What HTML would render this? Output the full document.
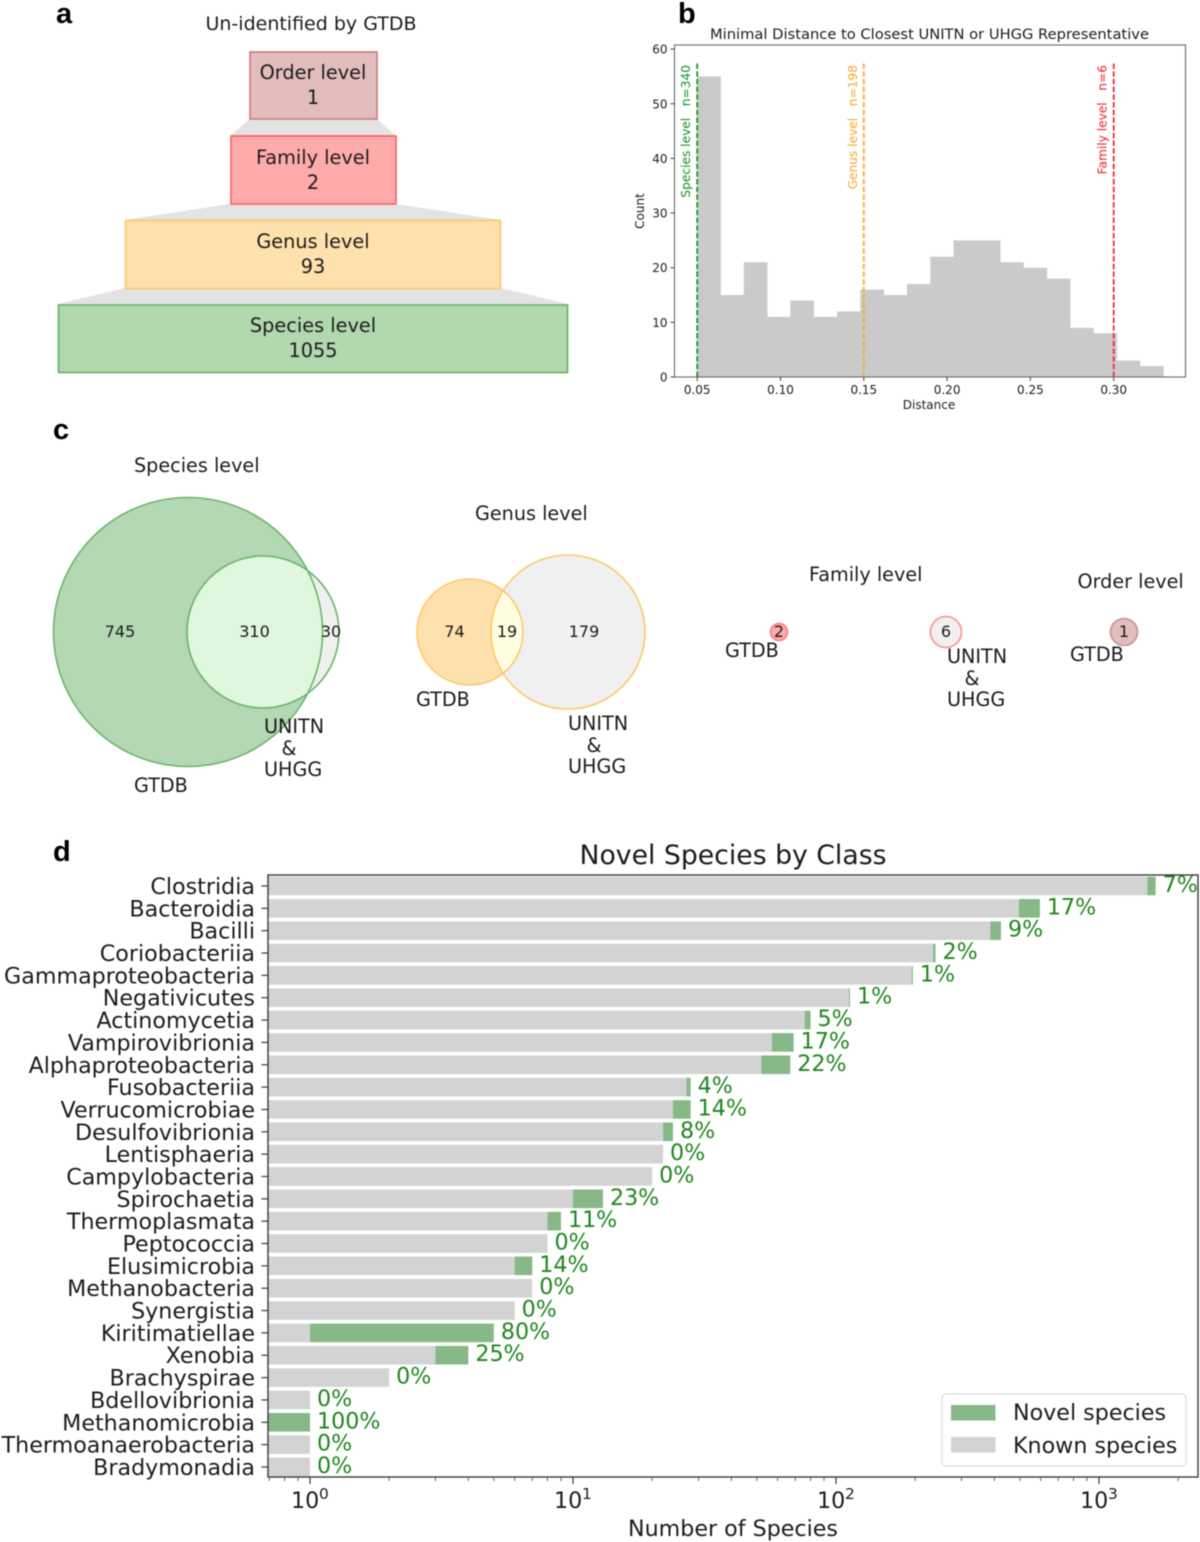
<!DOCTYPE html>
<html lang="en">
<head>
<meta charset="utf-8">
<title>Novel species figure</title>
<style>
html,body{margin:0;padding:0;background:#fff;}
svg{display:block;filter:blur(0.4px);}
text{font-family:"DejaVu Sans","Liberation Sans",sans-serif;fill:#1c1c1c;}
.letter{font-family:"Liberation Sans",sans-serif;font-weight:bold;font-size:29px;fill:#000;}
.a-t{font-size:19.3px;text-anchor:middle;}
.c-t{font-size:19.2px;}
.c-v{font-size:16px;text-anchor:middle;}
</style>
</head>
<body>
<svg id="figure" xmlns="http://www.w3.org/2000/svg" width="1200" height="1542" viewBox="0 0 1200 1542">
<defs>
<clipPath id="clip-gtdb-species"><circle cx="188" cy="632" r="134.5"/></clipPath>
<clipPath id="clip-gtdb-genus"><circle cx="470" cy="632" r="53"/></clipPath>
<clipPath id="clip-axes-d"><rect x="268" y="875" width="930" height="602"/></clipPath>
</defs>
<rect width="1200" height="1542" fill="#fff"/>

<!-- Panel a -->
<g id="panel-a">
<text class="letter" x="56" y="23">a</text>
<text x="311" y="30" font-size="19" text-anchor="middle">Un-identified by GTDB</text>
<polygon points="249.5,119 377,119 396,136 230,136" fill="#e3e3e3"/>
<polygon points="230,204 396,204 501,220 125,220" fill="#e3e3e3"/>
<polygon points="125,288 501,288 568,304 58,304" fill="#e3e3e3"/>
<rect x="250" y="52" width="127" height="67" fill="#e3bcbc" stroke="#c97c7c" stroke-width="1.6"/>
<rect x="231" y="136" width="165" height="68" fill="#ffabab" stroke="#ff5f5f" stroke-width="1.6"/>
<rect x="125.5" y="220.5" width="375" height="68" fill="#ffe1ad" stroke="#ffc76a" stroke-width="1.6"/>
<rect x="58.5" y="305" width="509" height="67.5" fill="#b1d8af" stroke="#66b066" stroke-width="1.6"/>
<text class="a-t" x="313" y="79">Order level</text>
<text class="a-t" x="313" y="104">1</text>
<text class="a-t" x="313" y="164">Family level</text>
<text class="a-t" x="313" y="189">2</text>
<text class="a-t" x="313" y="248">Genus level</text>
<text class="a-t" x="313" y="273">93</text>
<text class="a-t" x="313" y="332">Species level</text>
<text class="a-t" x="313" y="357">1055</text>
</g>

<!-- Panel b -->
<g id="panel-b">
<text class="letter" x="678" y="23">b</text>
<text x="929.5" y="39" font-size="14" text-anchor="middle" textLength="439" lengthAdjust="spacingAndGlyphs">Minimal Distance to Closest UNITN or UHGG Representative</text>
<g id="hist-bars"></g>
<g id="hist-lines"></g>
<rect x="674.5" y="45" width="511" height="332" fill="none" stroke="#6a6a6a" stroke-width="1.1"/>
<g id="hist-axes"></g>
<text x="929" y="409" font-size="12" text-anchor="middle">Distance</text>
<text transform="translate(644,211) rotate(-90)" font-size="12" text-anchor="middle">Count</text>
</g>

<!-- Panel c -->
<g id="panel-c">
<text class="letter" x="53" y="439">c</text>
<text class="c-t" x="134" y="472">Species level</text>
<circle cx="263" cy="632" r="76" fill="#f0f0f0"/>
<circle cx="188" cy="632" r="134.5" fill="#b3d8b3"/>
<circle cx="263" cy="632" r="76" fill="#dff7dc" clip-path="url(#clip-gtdb-species)"/>
<circle cx="188" cy="632" r="134.5" fill="none" stroke="#6ab56a" stroke-width="1.6"/>
<circle cx="263" cy="632" r="76" fill="none" stroke="#6ab56a" stroke-width="1.6"/>
<text class="c-v" x="120" y="637">745</text>
<text class="c-v" x="254.500" y="637">310</text>
<text class="c-v" x="331" y="637">30</text>
<text class="c-t" x="134" y="792">GTDB</text>
<text class="c-t" x="264" y="733">UNITN</text>
<text class="c-t" x="289" y="755" text-anchor="middle">&amp;</text>
<text class="c-t" x="264" y="776">UHGG</text>

<text class="c-t" x="475" y="520">Genus level</text>
<circle cx="568" cy="632" r="77" fill="#f0f0f0"/>
<circle cx="470" cy="632" r="53" fill="#ffe1ad"/>
<circle cx="568" cy="632" r="77" fill="#fffde0" clip-path="url(#clip-gtdb-genus)"/>
<circle cx="470" cy="632" r="53" fill="none" stroke="#ffc76a" stroke-width="1.6"/>
<circle cx="568" cy="632" r="77" fill="none" stroke="#ffc76a" stroke-width="1.6"/>
<text class="c-v" x="454.500" y="637">74</text>
<text class="c-v" x="507" y="637">19</text>
<text class="c-v" x="584" y="637">179</text>
<text class="c-t" x="416" y="706">GTDB</text>
<text class="c-t" x="568" y="730">UNITN</text>
<text class="c-t" x="594" y="752" text-anchor="middle">&amp;</text>
<text class="c-t" x="568" y="773">UHGG</text>

<text class="c-t" x="809" y="581">Family level</text>
<circle cx="779" cy="632" r="8.5" fill="#ffabab" stroke="#ff7a7a" stroke-width="1.6"/>
<text class="c-v" x="779" y="637" font-size="15">2</text>
<text class="c-t" x="725" y="657">GTDB</text>
<circle cx="946" cy="632" r="15.500" fill="#f0f0f0" stroke="#ff8e8e" stroke-width="1.6"/>
<text class="c-v" x="946" y="637">6</text>
<text class="c-t" x="947" y="663">UNITN</text>
<text class="c-t" x="972" y="685" text-anchor="middle">&amp;</text>
<text class="c-t" x="947" y="706">UHGG</text>

<text class="c-t" x="1077.500" y="588">Order level</text>
<circle cx="1124" cy="632" r="13.500" fill="#e3bcbc" stroke="#cf8f8f" stroke-width="1.6"/>
<text class="c-v" x="1124" y="637">1</text>
<text class="c-t" x="1070" y="661">GTDB</text>
</g>

<!-- Panel d -->
<g id="panel-d">
<text class="letter" x="53" y="861">d</text>
<text x="733" y="864" font-size="26.7" text-anchor="middle">Novel Species by Class</text>
<g id="class-bars" clip-path="url(#clip-axes-d)"></g>
<g id="class-labels"></g>
<rect x="268" y="875" width="930" height="602" fill="none" stroke="#3a3a3a" stroke-width="1.4"/>
<g id="class-axes"></g>
<text x="733" y="1536" font-size="22.2" text-anchor="middle">Number of Species</text>
<g>
<rect x="942" y="1394" width="244" height="72" rx="4" fill="#fff" fill-opacity="0.85" stroke="#dcdcdc" stroke-width="1.2"/>
<rect x="951" y="1405" width="44.500" height="15.500" fill="#87b887"/>
<text x="1013" y="1420" font-size="22.2">Novel species</text>
<rect x="951" y="1437" width="44.500" height="15.500" fill="#d3d3d3"/>
<text x="1013" y="1453" font-size="22.2">Known species</text>
</g>
</g>
</svg>

<script>
// Panel b data
const histCounts = [55, 15, 21, 11, 14, 11, 12, 16, 15, 17, 22, 25, 25, 21, 20, 18, 9, 8, 3, 2];
const histRange = [0.05, 0.3298];
const histXTicks = [0.05, 0.10, 0.15, 0.20, 0.25, 0.30];
const histYTicks = [0, 10, 20, 30, 40, 50, 60];
const thresholdValues = [0.05, 0.15, 0.30];
const thresholdTop = [57.5, 57.5, 57.5];
const thresholdNames = ['species', 'genus', 'family'];
const thresholdColors = ['#14921e', '#f7a925', '#f4202c'];
const thresholdLabels = ['Species level   n=340', 'Genus level   n=198', 'Family level   n=6'];

// Panel d data
const classNames = ['Clostridia', 'Bacteroidia', 'Bacilli', 'Coriobacteriia', 'Gammaproteobacteria', 'Negativicutes', 'Actinomycetia', 'Vampirovibrionia', 'Alphaproteobacteria', 'Fusobacteriia', 'Verrucomicrobiae', 'Desulfovibrionia', 'Lentisphaeria', 'Campylobacteria', 'Spirochaetia', 'Thermoplasmata', 'Peptococcia', 'Elusimicrobia', 'Methanobacteria', 'Synergistia', 'Kiritimatiellae', 'Xenobia', 'Brachyspirae', 'Bdellovibrionia', 'Methanomicrobia', 'Thermoanaerobacteria', 'Bradymonadia'];
const knownSpecies = [1527, 496, 386, 234, 194, 112, 76, 57, 52, 27, 24, 22, 22, 20, 10, 8, 8, 6, 7, 6, 1, 3, 2, 1, 0, 1, 1];
const novelSpecies = [115, 100, 38, 5, 2, 1, 4, 12, 15, 1, 4, 2, 0, 0, 3, 1, 0, 1, 0, 0, 4, 1, 0, 0, 1, 0, 0];
const classXTickExponents = [0, 1, 2, 3];
const classXMinorTicks = [0.7, 0.8, 0.9, 2, 3, 4, 5, 6, 7, 8, 9, 20, 30, 40, 50, 60, 70, 80, 90, 200, 300, 400, 500, 600, 700, 800, 900, 2000];

const NS = 'http://www.w3.org/2000/svg';
function make(parent, tag, attrs, txt) {
  const el = document.createElementNS(NS, tag);
  for (const k in attrs) el.setAttribute(k, attrs[k]);
  if (txt !== undefined) el.textContent = txt;
  parent.appendChild(el);
  return el;
}

// Axis functions
function histX(v) { return 697.2 + (v - 0.05) * 1666; }
function histY(v) { return 377 - v * 5.465; }
function classX(v) { return 310 + Math.log10(v) * 263; }
function classY(i) { return 886 + i * 22.345; }

// Histogram bars
const histBars = document.getElementById('hist-bars');
const binWidth = (histRange[1] - histRange[0]) / histCounts.length;
histCounts.forEach(function (c, i) {
  const x0 = histX(histRange[0] + i * binWidth);
  const x1 = histX(histRange[0] + (i + 1) * binWidth);
  const r = make(histBars, 'rect', { x: x0, y: histY(c), width: x1 - x0 + 0.3, height: histY(0) - histY(c), fill: '#cacaca' });
  
  
});

// Threshold lines
const histLines = document.getElementById('hist-lines');
thresholdValues.forEach(function (v, i) {
  const l = make(histLines, 'line', { x1: histX(v), x2: histX(v), y1: histY(0), y2: histY(thresholdTop[i]), stroke: thresholdColors[i], 'stroke-width': 1.7, 'stroke-dasharray': '5.5 2.2' });
  
  
  const t = make(histLines, 'text', { transform: 'translate(' + (histX(v) - 7) + ',65) rotate(-90)', 'font-size': 12.2, 'text-anchor': 'end', style: 'fill:' + thresholdColors[i] + ';white-space:pre' }, thresholdLabels[i]);
  
  
});

// Histogram axes
const histAxes = document.getElementById('hist-axes');
histXTicks.forEach(function (v) {
  const tick = make(histAxes, 'line', { x1: histX(v), x2: histX(v), y1: 377, y2: 381, stroke: '#444', 'stroke-width': 1 });
  
  
  const lab = make(histAxes, 'text', { x: histX(v), y: 394, 'font-size': 12, 'text-anchor': 'middle' }, v.toFixed(2));
  
  
});
histYTicks.forEach(function (v) {
  const tick = make(histAxes, 'line', { x1: 670.5, x2: 674.5, y1: histY(v), y2: histY(v), stroke: '#444', 'stroke-width': 1 });
  
  
  const lab = make(histAxes, 'text', { x: 667.5, y: histY(v) + 4.5, 'font-size': 12, 'text-anchor': 'end' }, String(v));
  
  
});

// Class bars
const classBars = document.getElementById('class-bars');
const classLabels = document.getElementById('class-labels');
const classAxes = document.getElementById('class-axes');
const BAR_H = 18.6;
classNames.forEach(function (name, i) {
  const known = knownSpecies[i];
  const novel = novelSpecies[i];
  const total = known + novel;
  const left = 268;
  const y = classY(i) - BAR_H / 2;
  const knownEnd = known > 0 ? classX(known) : left;
  const totalEnd = classX(total);
  if (known > 0) {
    const k = make(classBars, 'rect', { x: left, y: y, width: knownEnd - left, height: BAR_H, fill: '#d3d3d3' });
    
    
  }
  if (novel > 0) {
    const n = make(classBars, 'rect', { x: knownEnd, y: y, width: totalEnd - knownEnd, height: BAR_H, fill: '#87b887' });
    
    
  }
  const p = make(classLabels, 'text', { x: totalEnd + 7, y: classY(i) + 6, 'font-size': 22.2, style: 'fill:#1f871f' }, Math.round(novel / total * 100) + '%');
  
  
  const tick = make(classAxes, 'line', { x1: 261.5, x2: 268, y1: classY(i), y2: classY(i), stroke: '#3a3a3a', 'stroke-width': 1.2 });
  
  
  const lab = make(classAxes, 'text', { x: 255, y: classY(i) + 8, 'font-size': 22.2, 'text-anchor': 'end' }, name);
  
  
});

// Class x ticks
classXTickExponents.forEach(function (e) {
  const x = classX(Math.pow(10, e));
  const tick = make(classAxes, 'line', { x1: x, x2: x, y1: 1477, y2: 1484, stroke: '#3a3a3a', 'stroke-width': 1.2 });
  
  
  const lab = make(classAxes, 'text', { x: x - 19, y: 1508, 'font-size': 22.2 }, '10');
  
  
  const sup = make(classAxes, 'text', { x: x + 9, y: 1499, 'font-size': 15.4 }, String(e));
  
  
});
classXMinorTicks.forEach(function (v) {
  const x = classX(v);
  const tick = make(classAxes, 'line', { x1: x, x2: x, y1: 1477, y2: 1481, stroke: '#555', 'stroke-width': 0.9 });
  
  
});
</script>
</body>
</html>
